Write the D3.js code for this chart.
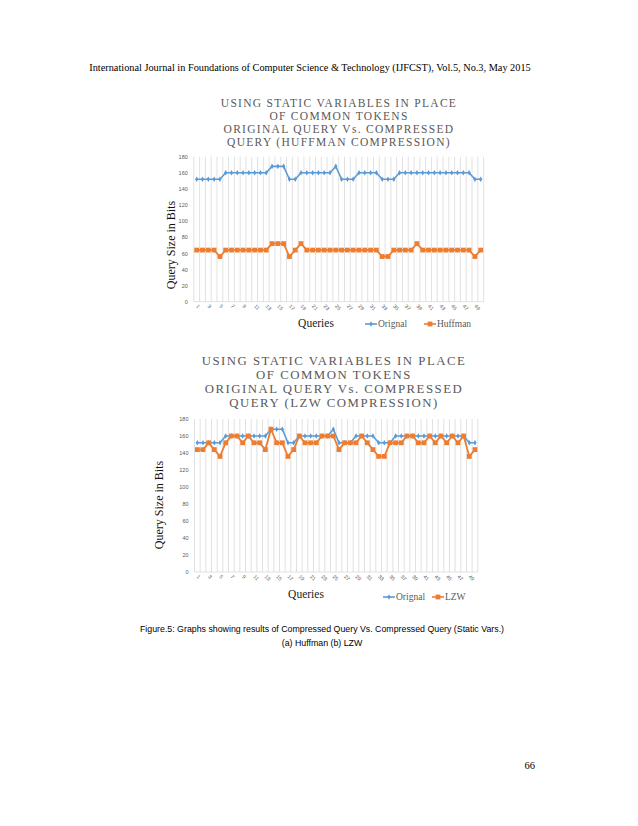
<!DOCTYPE html>
<html><head><meta charset="utf-8">
<script src="https://cdn.jsdelivr.net/npm/d3@7"></script>
<style>body{margin:0;background:#fff}svg{display:block}</style>
</head><body>
<svg id="page" width="638" height="826"></svg>
<script>
// ---- data ----
const queries = [1,2,3,4,5,6,7,8,9,10,11,12,13,14,15,16,17,18,19,20,21,22,23,24,25,26,27,28,29,30,31,32,33,34,35,36,37,38,39,40,41,42,43,44,45,46,47,48,49,50];
const xTickLabels = [1,3,5,7,9,11,13,15,17,19,21,23,25,27,29,31,33,35,37,39,41,43,45,47,49];
const yTicks = [0,20,40,60,80,100,120,140,160,180];
const original = [152,152,152,152,152,160,160,160,160,160,160,160,160,168,168,168,152,152,160,160,160,160,160,160,168,152,152,152,160,160,160,160,152,152,152,160,160,160,160,160,160,160,160,160,160,160,160,160,152,152];
const huffman = [64,64,64,64,56,64,64,64,64,64,64,64,64,72,72,72,56,64,72,64,64,64,64,64,64,64,64,64,64,64,64,64,56,56,64,64,64,64,72,64,64,64,64,64,64,64,64,64,56,64];
const lzw = [144,144,152,144,136,152,160,160,152,160,152,152,144,168,152,152,136,144,160,152,152,152,160,160,160,144,152,152,152,160,152,144,136,136,152,152,152,160,160,152,152,160,152,160,152,160,152,160,136,144];
const titleTop = ["USING STATIC VARIABLES IN PLACE","OF COMMON TOKENS","ORIGINAL QUERY Vs. COMPRESSED","QUERY (HUFFMAN COMPRESSION)"];
const titleBottom = ["USING STATIC VARIABLES IN PLACE","OF COMMON TOKENS","ORIGINAL QUERY Vs. COMPRESSED","QUERY (LZW COMPRESSION)"];
const headerText = "International Journal in Foundations of Computer Science & Technology (IJFCST), Vol.5, No.3, May 2015";
const captionLines = ["Figure.5: Graphs showing results of Compressed Query Vs. Compressed Query (Static Vars.)","(a) Huffman (b) LZW"];
const pageNumber = "66";

const BLUE = "#5B9BD5", ORANGE = "#ED7D31", GREY = "#595959";
const svg = d3.select("#page");

svg.append("text").attr("x", 310).attr("y", 71).attr("text-anchor","middle")
  .attr("font-family","Liberation Serif").attr("font-size",10.3).attr("fill","#000").text(headerText);
svg.append("text").attr("x", 535).attr("y", 769).attr("text-anchor","end")
  .attr("font-family","Liberation Serif").attr("font-size",10.5).attr("fill","#000").text(pageNumber);
captionLines.forEach((t,i)=>{
  svg.append("text").attr("x", 322).attr("y", 632 + i*14).attr("text-anchor","middle")
    .attr("font-family","Liberation Sans").attr("font-size",8.8).attr("fill","#000").text(t);
});

function drawChart(cfg){
  const g = svg.append("g");
  const x = d3.scaleBand().domain(queries).range([cfg.left, cfg.right]).paddingInner(0).paddingOuter(0);
  const y = d3.scaleLinear().domain([0,180]).range([cfg.bottom, cfg.top]);
  const cx = d => x(d) + x.bandwidth()/2;

  // title
  cfg.title.forEach((t,i)=>{
    g.append("text").attr("x", cfg.titleX).attr("y", cfg.titleY + i*cfg.titleGap)
      .attr("text-anchor","middle").attr("font-family","Liberation Serif")
      .attr("font-size", cfg.titleSize).attr("letter-spacing", cfg.titleSpacing)
      .attr("fill", GREY).text(t);
  });

  // vertical gridlines at category boundaries
  const bounds = queries.map(q => x(q)).concat([cfg.right]);
  g.selectAll(".vg").data(bounds).join("line")
    .attr("x1", d=>d).attr("x2", d=>d).attr("y1", y(180)).attr("y2", y(0))
    .attr("stroke","#D9D9D9").attr("stroke-width",0.8);
  g.append("line").attr("x1",cfg.left).attr("x2",cfg.right).attr("y1",y(0)).attr("y2",y(0))
    .attr("stroke","#D9D9D9").attr("stroke-width",0.8);

  // y axis
  const ya = g.append("g").attr("transform",`translate(${cfg.left-4},0)`)
    .call(d3.axisLeft(y).tickValues(yTicks).tickSize(0).tickPadding(2));
  ya.select(".domain").remove();
  ya.selectAll("text").attr("font-family","Liberation Sans").attr("font-size",5.5).attr("fill",GREY);

  // x axis tick labels
  const xa = g.append("g").attr("transform",`translate(0,${y(0)})`)
    .call(d3.axisBottom(x).tickValues(xTickLabels).tickSize(0).tickPadding(0));
  xa.select(".domain").remove();
  xa.selectAll("text").attr("font-family","Liberation Sans").attr("font-size",5.2).attr("fill",GREY)
    .attr("text-anchor","start").attr("dy",0)
    .attr("transform","translate(-1,5) rotate(45)");

  // axis titles
  g.append("text").attr("x", cfg.qX).attr("y", cfg.qY).attr("text-anchor","middle")
    .attr("font-family","Liberation Serif").attr("font-size",11.5).attr("fill","#222").text("Queries");
  g.append("text").attr("transform",`translate(${cfg.ytX},${cfg.ytY}) rotate(-90)`).attr("text-anchor","middle")
    .attr("font-family","Liberation Serif").attr("font-size",12).attr("fill","#111").text("Query Size in Bits");

  // series
  const line = d3.line().x((d,i)=>cx(queries[i])).y(d=>y(d));
  g.append("path").datum(original).attr("d",line).attr("fill","none").attr("stroke",BLUE).attr("stroke-width",1.6);
  g.append("path").datum(cfg.series).attr("d",line).attr("fill","none").attr("stroke",ORANGE).attr("stroke-width",1.8);
  const sym = d3.symbol().type(d3.symbolDiamond).size(9);
  g.selectAll(".bp").data(original).join("path")
    .attr("d", sym).attr("transform",(d,i)=>`translate(${cx(queries[i])},${y(d)})`).attr("fill",BLUE);
  g.selectAll(".op").data(cfg.series).join("rect")
    .attr("x",(d,i)=>cx(queries[i])-2.4).attr("y",d=>y(d)-2.4).attr("width",4.8).attr("height",4.8).attr("fill",ORANGE);

  // legend
  const lg = g.append("g");
  const items = [{name:"Orignal", color:BLUE, type:"d", x:cfg.legX},{name:cfg.seriesName, color:ORANGE, type:"s", x:cfg.legX2}];
  items.forEach(it=>{
    lg.append("line").attr("x1",it.x).attr("x2",it.x+12).attr("y1",cfg.legY).attr("y2",cfg.legY).attr("stroke",it.color).attr("stroke-width",1.6);
    if(it.type==="d") lg.append("path").attr("d",sym).attr("transform",`translate(${it.x+6},${cfg.legY})`).attr("fill",it.color);
    else lg.append("rect").attr("x",it.x+3.6).attr("y",cfg.legY-2.4).attr("width",4.8).attr("height",4.8).attr("fill",it.color);
    lg.append("text").attr("x",it.x+13).attr("y",cfg.legY+3.2).attr("font-family","Liberation Serif")
      .attr("font-size",9.5).attr("fill",GREY).text(it.name);
  });
}

drawChart({title:titleTop, titleX:339, titleY:107, titleGap:13, titleSize:11.5, titleSpacing:1.3,
  left:193.8, right:483.6, top:156.7, bottom:301.6, series:huffman, seriesName:"Huffman",
  qX:316, qY:327, ytX:175, ytY:245, legX:365, legX2:424, legY:324});
drawChart({title:titleBottom, titleX:334, titleY:365, titleGap:14, titleSize:12.8, titleSpacing:1.5,
  left:194.5, right:477.8, top:419, bottom:572, series:lzw, seriesName:"LZW",
  qX:306, qY:598, ytX:163, ytY:505, legX:383, legX2:432, legY:597});
</script>
</body></html>
